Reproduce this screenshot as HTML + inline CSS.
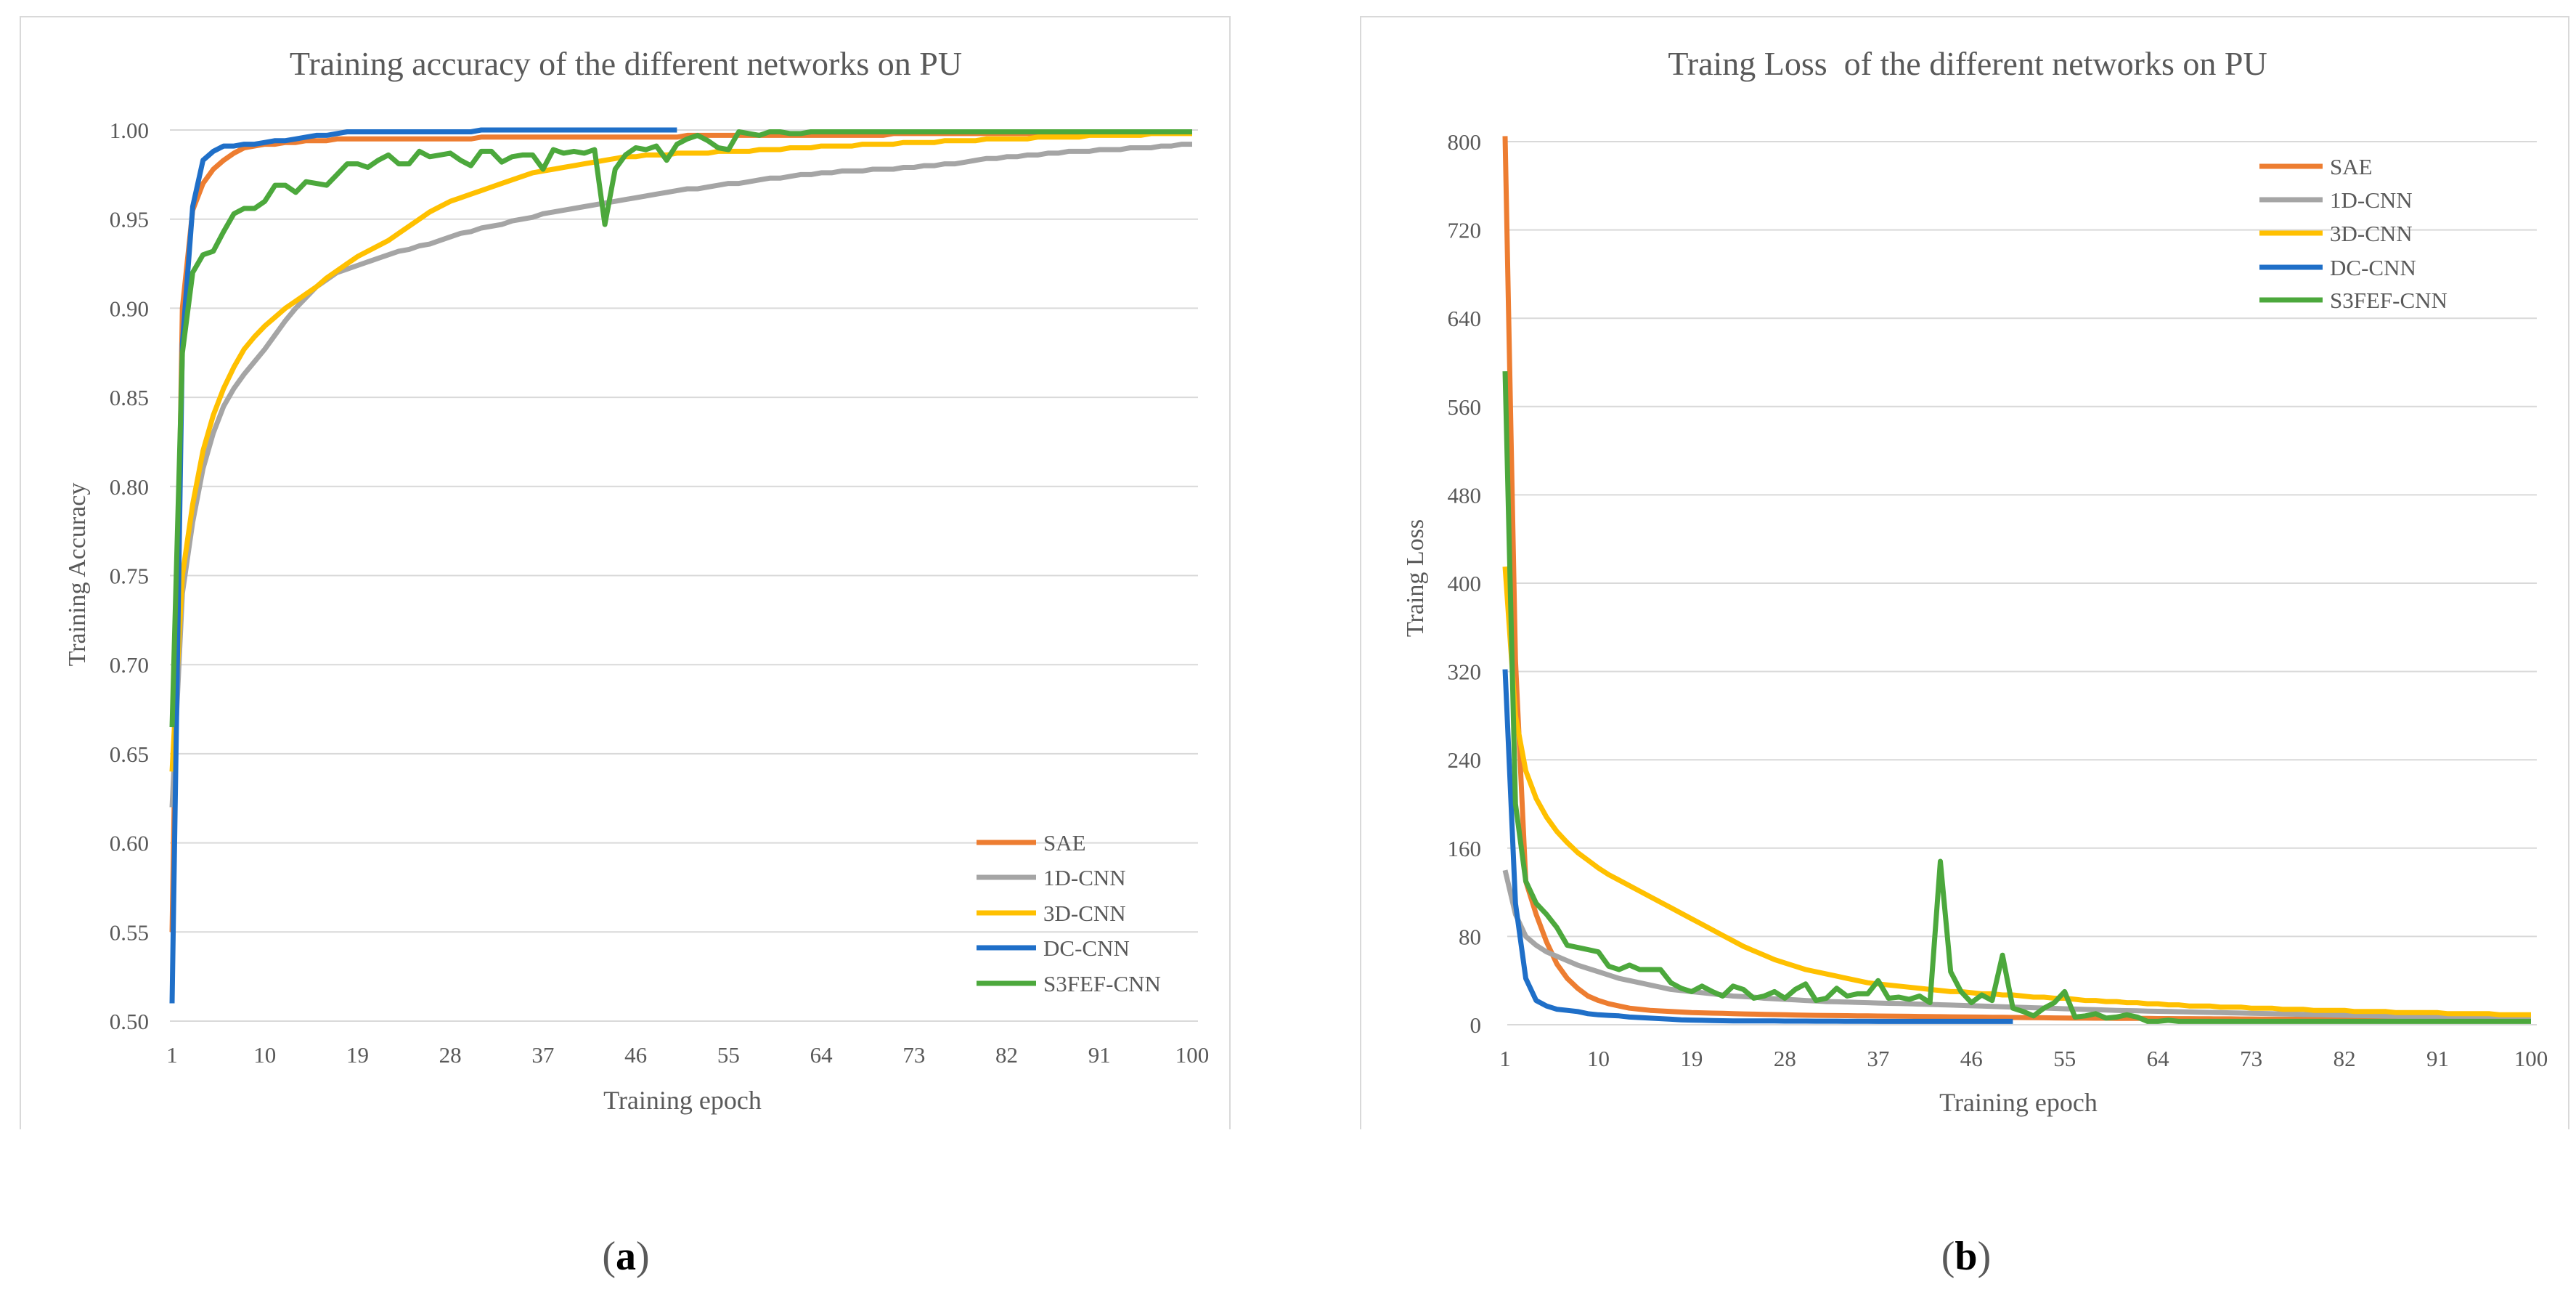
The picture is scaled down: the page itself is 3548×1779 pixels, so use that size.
<!DOCTYPE html>
<html><head><meta charset="utf-8"><style>
html,body{margin:0;padding:0;background:#fff;}
svg text{font-family:"Liberation Serif",serif;fill:#595959;}
</style></head><body>
<svg id="fig" width="3548" height="1774" viewBox="0 0 3548 1774" xmlns="http://www.w3.org/2000/svg">
<g stroke="#d9d9d9" stroke-width="2" fill="none">
<path d="M28 1555 V23 H1694 V1555"/></g>
<g stroke="#d9d9d9" stroke-width="2" fill="none">
<path d="M1874 1555 V23 H3538 V1555"/></g>
<text x="862" y="103" font-size="46" text-anchor="middle">Training accuracy of the different networks on PU</text>
<text x="2710" y="103" font-size="46" text-anchor="middle" xml:space="preserve">Traing Loss  of the different networks on PU</text>
<text transform="translate(117,791) rotate(-90)" font-size="34" text-anchor="middle">Training Accuracy</text>
<text transform="translate(1960,796) rotate(-90)" font-size="34" text-anchor="middle">Traing Loss</text>
<text x="940" y="1527" font-size="36" text-anchor="middle">Training epoch</text>
<text x="2780" y="1530" font-size="36" text-anchor="middle">Training epoch</text>
<text x="862" y="1748" font-size="56" text-anchor="middle">(<tspan font-weight="bold" style="fill:#000">a</tspan>)</text>
<text x="2708" y="1748" font-size="56" text-anchor="middle">(<tspan font-weight="bold" style="fill:#000">b</tspan>)</text>
<g id="accG"></g><g id="lossG"></g>
</svg>
<script>
const seriesNames=["SAE","1D-CNN","3D-CNN","DC-CNN","S3FEF-CNN"];
const seriesColors=["#ED7D31","#A5A5A5","#FFC000","#1F6FC8","#4CA83C"];
const xTicks=[1,10,19,28,37,46,55,64,73,82,91,100];
const accTicks=[0.50,0.55,0.60,0.65,0.70,0.75,0.80,0.85,0.90,0.95,1.00];
const lossTicks=[0,80,160,240,320,400,480,560,640,720,800];
const accSAE=[0.55,0.90,0.955,0.970,0.978,0.983,0.987,0.990,0.991,0.992,0.992,0.993,0.993,0.994,0.994,0.994,0.995,0.995,0.995,0.995,0.995,0.995,0.995,0.995,0.995,0.995,0.995,0.995,0.995,0.995,0.996,0.996,0.996,0.996,0.996,0.996,0.996,0.996,0.996,0.996,0.996,0.996,0.996,0.996,0.996,0.996,0.996,0.996,0.996,0.996,0.997,0.997,0.997,0.997,0.997,0.997,0.997,0.997,0.997,0.997,0.997,0.997,0.997,0.997,0.997,0.997,0.997,0.997,0.997,0.997,0.998,0.998,0.998,0.998,0.998,0.998,0.998,0.998,0.998,0.998,0.998,0.998,0.998,0.998,0.998,0.998,0.998,0.998,0.998,0.998,0.999,0.999,0.999,0.999,0.999,0.999,0.999,0.999,0.999,0.999];
const acc1D=[0.62,0.74,0.78,0.81,0.83,0.845,0.855,0.863,0.870,0.877,0.885,0.893,0.900,0.906,0.912,0.916,0.920,0.922,0.924,0.926,0.928,0.930,0.932,0.933,0.935,0.936,0.938,0.940,0.942,0.943,0.945,0.946,0.947,0.949,0.950,0.951,0.953,0.954,0.955,0.956,0.957,0.958,0.959,0.960,0.961,0.962,0.963,0.964,0.965,0.966,0.967,0.967,0.968,0.969,0.970,0.970,0.971,0.972,0.973,0.973,0.974,0.975,0.975,0.976,0.976,0.977,0.977,0.977,0.978,0.978,0.978,0.979,0.979,0.980,0.980,0.981,0.981,0.982,0.983,0.984,0.984,0.985,0.985,0.986,0.986,0.987,0.987,0.988,0.988,0.988,0.989,0.989,0.989,0.990,0.990,0.990,0.991,0.991,0.992,0.992];
const acc3D=[0.64,0.75,0.79,0.82,0.84,0.855,0.867,0.877,0.884,0.890,0.895,0.900,0.904,0.908,0.912,0.917,0.921,0.925,0.929,0.932,0.935,0.938,0.942,0.946,0.950,0.954,0.957,0.960,0.962,0.964,0.966,0.968,0.970,0.972,0.974,0.976,0.977,0.978,0.979,0.980,0.981,0.982,0.983,0.984,0.985,0.985,0.986,0.986,0.986,0.987,0.987,0.987,0.987,0.988,0.988,0.988,0.988,0.989,0.989,0.989,0.990,0.990,0.990,0.991,0.991,0.991,0.991,0.992,0.992,0.992,0.992,0.993,0.993,0.993,0.993,0.994,0.994,0.994,0.994,0.995,0.995,0.995,0.995,0.995,0.996,0.996,0.996,0.996,0.996,0.997,0.997,0.997,0.997,0.997,0.997,0.998,0.998,0.998,0.998,0.998];
const accDC=[0.51,0.88,0.957,0.983,0.988,0.991,0.991,0.992,0.992,0.993,0.994,0.994,0.995,0.996,0.997,0.997,0.998,0.999,0.999,0.999,0.999,0.999,0.999,0.999,0.999,0.999,0.999,0.999,0.999,0.999,1.0,1.0,1.0,1.0,1.0,1.0,1.0,1.0,1.0,1.0,1.0,1.0,1.0,1.0,1.0,1.0,1.0,1.0,1.0,1.0];
const accS3=[0.665,0.875,0.92,0.93,0.932,0.943,0.953,0.956,0.956,0.96,0.969,0.969,0.965,0.971,0.970,0.969,0.975,0.981,0.981,0.979,0.983,0.986,0.981,0.981,0.988,0.985,0.986,0.987,0.983,0.980,0.988,0.988,0.982,0.985,0.986,0.986,0.978,0.989,0.987,0.988,0.987,0.989,0.947,0.978,0.986,0.990,0.989,0.991,0.983,0.992,0.995,0.997,0.994,0.990,0.989,0.999,0.998,0.997,0.999,0.999,0.998,0.998,0.999,0.999,0.999,0.999,0.999,0.999,0.999,0.999,0.999,0.999,0.999,0.999,0.999,0.999,0.999,0.999,0.999,0.999,0.999,0.999,0.999,0.999,0.999,0.999,0.999,0.999,0.999,0.999,0.999,0.999,0.999,0.999,0.999,0.999,0.999,0.999,0.999,0.999];
const lossSAE=[805,330,130,100,75,55,42,33,26,22,19,17,15,14,13,12.5,12,11.5,11,10.8,10.5,10.3,10,9.8,9.6,9.4,9.2,9,8.8,8.6,8.5,8.4,8.3,8.2,8.1,8,7.9,7.8,7.7,7.6,7.5,7.4,7.3,7.2,7.1,7,6.9,6.8,6.7,6.6,6.5,6.4,6.3,6.2,6.1,6,6,5.9,5.9,5.8,5.8,5.7,5.7,5.6,5.6,5.5,5.5,5.4,5.4,5.3,5.3,5.2,5.2,5.1,5.1,5,5,5,4.9,4.9,4.8,4.8,4.7,4.7,4.6,4.6,4.5,4.5,4.4,4.4,4.3,4.3,4.2,4.2,4.1,4.1,4,4,4,4];
const loss1D=[140,100,80,72,66,62,58,54,51,48,45,42,40,38,36,34,32,31,30,29,28,27,26,25.5,25,24,23.5,23,22.5,22,21.5,21,20.8,20.5,20.2,20,19.7,19.4,19.2,19,18.7,18.4,18.1,17.8,17.5,17.2,16.9,16.6,16.3,16,15.7,15.4,15.1,14.8,14.5,14.2,13.9,13.6,13.3,13,12.8,12.6,12.4,12.2,12,11.8,11.6,11.4,11.2,11,10.8,10.6,10.4,10.2,10,9.8,9.6,9.4,9.2,9,8.8,8.6,8.4,8.2,8,7.8,7.6,7.4,7.2,7,6.9,6.8,6.7,6.6,6.5,6.4,6.3,6.2,6.1,6];
const loss3D=[415,280,230,205,188,175,165,156,149,142,136,131,126,121,116,111,106,101,96,91,86,81,76,71,67,63,59,56,53,50,48,46,44,42,40,38,37,36,35,34,33,32,31,30,30,29,28,28,27,27,26,25,25,24,24,23,22,22,21,21,20,20,19,19,18,18,17,17,17,16,16,16,15,15,15,14,14,14,13,13,13,13,12,12,12,12,11,11,11,11,11,10,10,10,10,10,9,9,9,9];
const lossDC=[322,110,42,22,17,14,13,12,10,9,8.5,8,7,6.5,6,5.5,5,4.5,4.2,4,3.8,3.6,3.5,3.5,3.5,3.4,3.4,3.3,3.3,3.3,3.2,3.2,3.2,3.1,3.1,3.1,3,3,3,3,3,3,3,3,3,3,3,3,3,3];
const lossS3=[592,200,130,110,100,88,72,70,68,66,53,50,54,50,50,50,38,33,30,35,30,26,35,32,24,26,30,24,32,37,22,24,33,26,28,28,40,24,25,23,26,20,148,48,30,20,27,22,63,15,12,8,15,20,30,7,8,10,6,7,9,7,3,3,4,3,3,3,3,3,3,3,3,3,3,3,3,3,3,3,3,3,3,3,3,3,3,3,3,3,3,3,3,3,3,3,3,3,3,3];
const accSeries=[accSAE,acc1D,acc3D,accDC,accS3];
const lossSeries=[lossSAE,loss1D,loss3D,lossDC,lossS3];
const NS="http://www.w3.org/2000/svg";
function mk(tag,attrs,parent){const e=document.createElementNS(NS,tag);for(const k in attrs)e.setAttribute(k,attrs[k]);parent.appendChild(e);return e;}
function drawChart(g,cfg){
  const xs=e=>cfg.x0+(e-1)*(cfg.x1-cfg.x0)/99;
  const ys=v=>cfg.yB-(v-cfg.vmin)/(cfg.vmax-cfg.vmin)*(cfg.yB-cfg.yT);
  cfg.yTicks.forEach(t=>{
    const l=mk('line',{x1:cfg.gx0,x2:cfg.gx1,y1:ys(t),y2:ys(t),stroke:'#d9d9d9','stroke-width':2},g);
    
    
    const tx=mk('text',{x:cfg.labX,y:ys(t)+11,'font-size':31,'text-anchor':'end'},g);
    tx.textContent=cfg.fmt(t);
    
    
  });
  xTicks.forEach(t=>{
    const tx=mk('text',{x:xs(t),y:cfg.xLabY,'font-size':31,'text-anchor':'middle'},g);
    tx.textContent=t;
    
    
  });
  cfg.series.forEach((arr,i)=>{
    const d=arr.map((v,k)=>(k?'L':'M')+xs(k+1).toFixed(1)+' '+ys(v).toFixed(1)).join(' ');
    const p=mk('path',{d:d,fill:'none',stroke:seriesColors[i],'stroke-width':7,'stroke-linejoin':'round'},g);
    
    
  });
  seriesNames.forEach((n,i)=>{
    const y=cfg.legY[i];
    const l=mk('line',{x1:cfg.legX0,x2:cfg.legX1,y1:y,y2:y,stroke:seriesColors[i],'stroke-width':7},g);
    
    
    const tx=mk('text',{x:cfg.legX1+10,y:y+11,'font-size':31},g);
    tx.textContent=n;
    
    
  });
}
drawChart(document.getElementById('accG'),{x0:237,x1:1642,yT:179,yB:1406,vmin:0.5,vmax:1.0,gx0:234,gx1:1650,labX:205,xLabY:1463,
  yTicks:accTicks,fmt:t=>t.toFixed(2),series:accSeries,legX0:1345,legX1:1427,legY:[1160,1208,1257,1305,1354]});
drawChart(document.getElementById('lossG'),{x0:2073,x1:3486,yT:195,yB:1411,vmin:0,vmax:800,gx0:2076,gx1:3494,labX:2040,xLabY:1468,
  yTicks:lossTicks,fmt:t=>String(t),series:lossSeries,legX0:3112,legX1:3199,legY:[229,275,321,368,413]});
</script>
</body></html>
